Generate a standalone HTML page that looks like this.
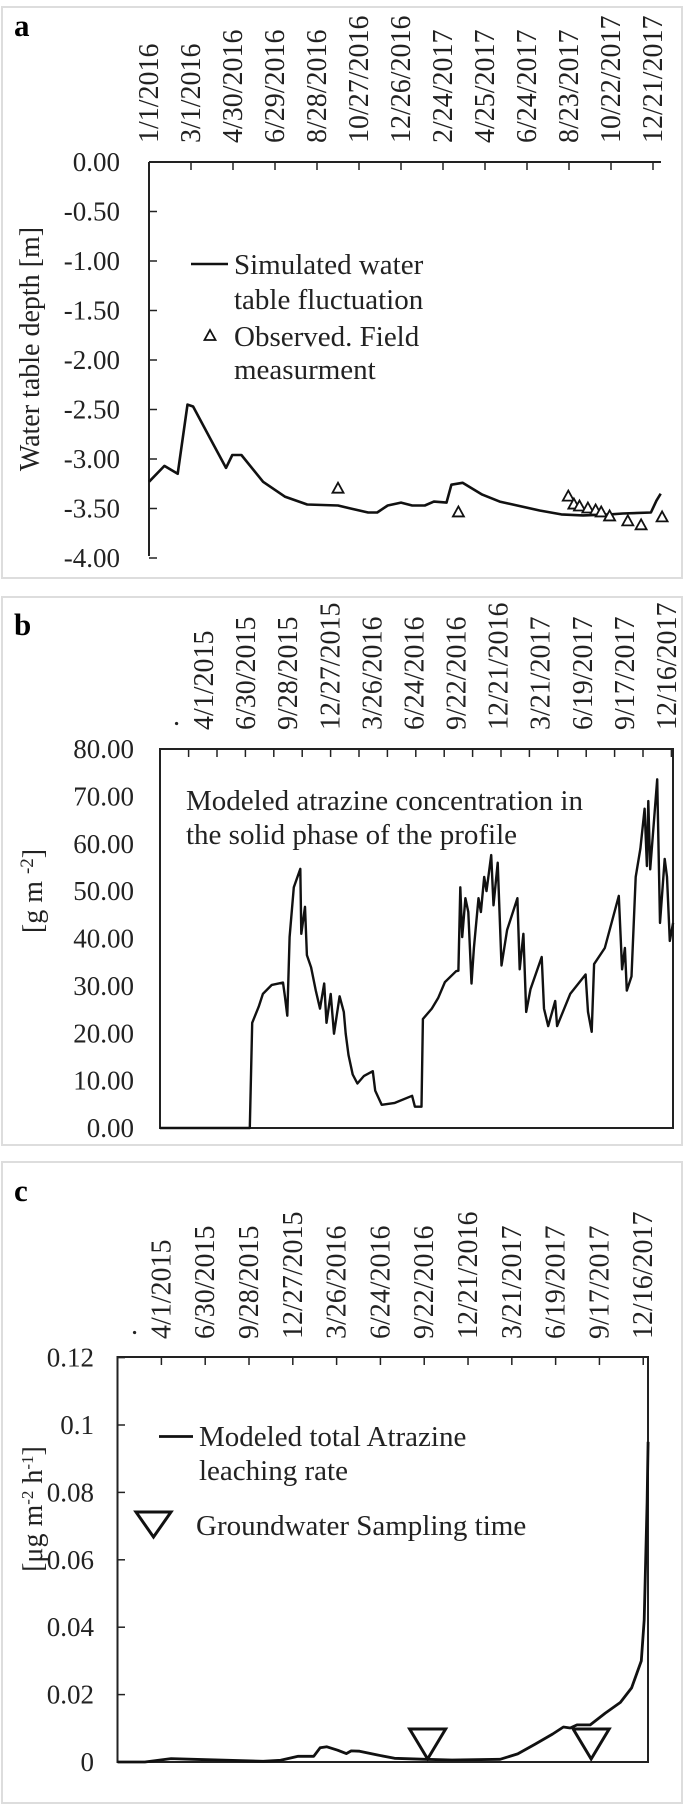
<!DOCTYPE html>
<html><head><meta charset="utf-8"><style>
html,body{margin:0;padding:0;background:#fff;}
svg{display:block;font-family:"Liberation Serif","Times New Roman",serif;}
svg text{font-family:"Liberation Serif","Times New Roman",serif;}
</style></head><body>
<svg id="s" width="685" height="1805" viewBox="0 0 685 1805">
<rect x="2" y="7" width="680" height="571" fill="none" stroke="#ddd" stroke-width="2"/>
<rect x="2" y="597" width="680" height="548" fill="none" stroke="#ddd" stroke-width="2"/>
<rect x="2" y="1162" width="680" height="641" fill="none" stroke="#ddd" stroke-width="2"/>
<text x="14" y="36" font-size="31" font-weight="bold">a</text>
<text x="14" y="635" font-size="31" font-weight="bold">b</text>
<text x="14" y="1201" font-size="31" font-weight="bold">c</text>
<g id="ga"></g>
<g id="gb"></g>
<g id="gc"></g>
</svg>
<script>
// ---- Panel a data ----
const aTickLabels = ["1/1/2016","3/1/2016","4/30/2016","6/29/2016","8/28/2016","10/27/2016","12/26/2016","2/24/2017","4/25/2017","6/24/2017","8/23/2017","10/22/2017","12/21/2017"];
const aYTicks = [0,-0.5,-1,-1.5,-2,-2.5,-3,-3.5,-4];
const aSimDays = [0,22,41,55,63,88,110,119,132,163,194,226,270,288,313,326,341,360,376,394,407,425,432,448,476,501,526,558,589,620,658,677,717,725,731];
const aSimVals = [-3.23,-3.07,-3.15,-2.45,-2.47,-2.80,-3.09,-2.96,-2.96,-3.23,-3.38,-3.46,-3.47,-3.50,-3.54,-3.54,-3.47,-3.44,-3.47,-3.47,-3.43,-3.44,-3.26,-3.24,-3.36,-3.43,-3.47,-3.52,-3.56,-3.57,-3.56,-3.55,-3.54,-3.42,-3.35];
const aObsDays = [270,442,599,607,615,627,638,646,658,684,703,733];
const aObsVals = [-3.30,-3.54,-3.38,-3.46,-3.48,-3.50,-3.52,-3.54,-3.58,-3.63,-3.67,-3.59];
// ---- Panel b data ----
const bTickLabels = [".","4/1/2015","6/30/2015","9/28/2015","12/27/2015","3/26/2016","6/24/2016","9/22/2016","12/21/2016","3/21/2017","6/19/2017","9/17/2017","12/16/2017"];
const bYTicks = [0,10,20,30,40,50,60,70,80];
const bDays = [-94,98,103,117,126,145,169,173,178,183,192,206,208,216,220,229,239,248,257,262,271,278,290,299,303,309,318,328,342,361,366,380,408,445,451,465,468,487,501,515,539,544,548,552,559,565,572,577,587,592,599,604,614,619,628,636,648,670,675,683,689,698,722,727,736,751,755,783,816,821,829,834,857,887,894,900,904,914,923,933,942,947,950,954,969,975,985,990,996,1003];
const bVals = [0,0,22.2,25.6,28.3,30.2,30.7,27.8,23.7,40.3,50.8,54.7,41,46.7,36.5,33.9,29,25.2,30.5,22.2,28.3,19.9,27.8,24.5,19.9,15.4,11.3,9.4,11,12,7.9,4.9,5.3,6.8,4.5,4.5,23,25.2,27.5,30.8,33.1,33.2,50.8,40.3,48.5,45.6,30.5,38,48.5,45.6,53,50,57.6,47,56,34.3,41.8,48.5,33.5,41,24.5,29.3,36.1,25.2,21.5,26.8,21.5,28.3,32.4,24.5,20.3,34.6,38,49,33.5,38,29,32,53,59,67.4,55.3,69,54.6,73.6,43.3,56.8,53,39.5,43.3];
// ---- Panel c data ----
const cTickLabels = [".","4/1/2015","6/30/2015","9/28/2015","12/27/2015","3/26/2016","6/24/2016","9/22/2016","12/21/2016","3/21/2017","6/19/2017","9/17/2017","12/16/2017"];
const cYTicks = [0,0.02,0.04,0.06,0.08,0.1,0.12];
const cYLabels = ["0","0.02","0.04","0.06","0.08","0.1","0.12"];
const cDays = [-90,-34,20,65,209,245,281,313,326,340,362,380,390,407,443,479,542,597,696,732,768,804,826,840,854,881,912,943,966,986,992,998,1000];
const cVals = [0,0,0.001,0.0008,0.0002,0.0005,0.0017,0.0017,0.0042,0.0045,0.0035,0.0025,0.0033,0.0032,0.0021,0.0011,0.0008,0.0006,0.0008,0.0024,0.0053,0.0083,0.0104,0.0101,0.011,0.011,0.0145,0.0177,0.022,0.030,0.0422,0.077,0.095];
const cSampleDays = [547,883];

const NS="http://www.w3.org/2000/svg";
function mk(parent,tag,attrs,txt){const e=document.createElementNS(NS,tag);for(const k in attrs)e.setAttribute(k,attrs[k]);if(txt!==undefined)e.textContent=txt;parent.appendChild(e);return e;}
function pathD(xs,ys,fx,fy){return xs.map((d,i)=>(i?"L":"M")+fx(d).toFixed(1)+","+fy(ys[i]).toFixed(1)).join("");}

// ===== Panel a =====
(function(){
 const g=document.getElementById('ga');
 const x=d=>149+d*0.7, y=v=>162-v*99;
 let e=mk(g,'path',{d:"M149,162H661M149,162V556",stroke:"#222","stroke-width":2,fill:"none"});
 
 
 aTickLabels.forEach((t,i)=>{
  const px=x(i*60);
  const tk=mk(g,'line',{x1:px,y1:162,x2:px,y2:170,stroke:"#222","stroke-width":1.5});
  
  
  const tl=mk(g,'text',{transform:`translate(${px+9},143) rotate(-90)`,"font-size":28,"text-anchor":"start",fill:"#222"},t);
  
  
 });
 aYTicks.forEach(v=>{
  const py=y(v);
  const tk=mk(g,'line',{x1:149,y1:py,x2:157,y2:py,stroke:"#222","stroke-width":1.5});
  
  
  const tl=mk(g,'text',{x:120,y:py+9,"font-size":27,"text-anchor":"end",fill:"#222"},v.toFixed(2).replace("-0.00","0.00"));
  
  
 });
 e=mk(g,'text',{transform:"translate(39,349) rotate(-90)","font-size":28,"text-anchor":"middle",fill:"#222"},"Water table depth [m]");
 
 
 e=mk(g,'path',{d:pathD(aSimDays,aSimVals,x,y),stroke:"#111","stroke-width":2.6,fill:"none","stroke-linejoin":"round"});
 
 
 aObsDays.forEach((d,i)=>{
  const px=x(d),py=y(aObsVals[i]);
  const t=mk(g,'path',{d:`M${px},${py-6}L${px+5.5},${py+4}L${px-5.5},${py+4}Z`,stroke:"#111","stroke-width":1.8,fill:"#fff"});
  
  
 });
 e=mk(g,'line',{x1:191,y1:264,x2:228,y2:264,stroke:"#111","stroke-width":2.6});
 
 
 e=mk(g,'text',{x:234,y:274,"font-size":29,fill:"#222"},"Simulated water");
 
 
 e=mk(g,'text',{x:234,y:309,"font-size":29,fill:"#222"},"table fluctuation");
 
 
 e=mk(g,'path',{d:"M210,330L215.5,340L204.5,340Z",stroke:"#111","stroke-width":1.8,fill:"#fff"});
 
 
 e=mk(g,'text',{x:234,y:346,"font-size":29,fill:"#222"},"Observed. Field");
 
 
 e=mk(g,'text',{x:234,y:379,"font-size":29,fill:"#222"},"measurment");
 
 
})();

// ===== Panel b =====
(function(){
 const g=document.getElementById('gb');
 const x=d=>204+d*0.4677, y=v=>1128-v*4.7375;
 let e=mk(g,'rect',{x:160,y:749,width:513,height:379,stroke:"#222","stroke-width":2,fill:"none"});
 
 
 for(let i=0;i<18;i++){
  const px=188.6+i*28.4;
  const tk=mk(g,'line',{x1:px,y1:749,x2:px,y2:757,stroke:"#222","stroke-width":1.5});
  
  
 }
 bTickLabels.forEach((t,i)=>{
  const px=i===0?169:x((i-1)*90);
  const tl=mk(g,'text',{transform:`translate(${px+9},${i===0?727:730}) rotate(-90)`,"font-size":28,fill:"#222"},t);
  
  
 });
 bYTicks.forEach(v=>{
  const tl=mk(g,'text',{x:134,y:y(v)+9,"font-size":27,"text-anchor":"end",fill:"#222"},v.toFixed(2));
  
  
 });
 e=mk(g,'text',{transform:"translate(42,891) rotate(-90)","font-size":28,"text-anchor":"middle",fill:"#222"});
 
 
 e.innerHTML='[g m <tspan dy="-9" font-size="19">-2</tspan><tspan dy="9">]</tspan>';
 e=mk(g,'path',{d:pathD(bDays,bVals,x,y),stroke:"#111","stroke-width":2.4,fill:"none","stroke-linejoin":"round"});
 
 
 e=mk(g,'text',{x:186,y:810,"font-size":29,fill:"#222"},"Modeled atrazine concentration in");
 
 
 e=mk(g,'text',{x:186,y:844,"font-size":29,fill:"#222"},"the solid phase of the profile");
 
 
})();

// ===== Panel c =====
(function(){
 const g=document.getElementById('gc');
 const x=d=>161.4+d*0.4867, y=v=>1762-v*3370;
 let e=mk(g,'rect',{x:117.5,y:1357,width:530.5,height:405,stroke:"#222","stroke-width":2,fill:"none"});
 
 
 cTickLabels.forEach((t,i)=>{
  const px=i===0?127:x((i-1)*90);
  if(i>0){
   const tk=mk(g,'line',{x1:px,y1:1357,x2:px,y2:1365,stroke:"#222","stroke-width":1.5});
   
   
  }
  const tl=mk(g,'text',{transform:`translate(${px+9},${i===0?1336:1339}) rotate(-90)`,"font-size":28,fill:"#222"},t);
  
  
 });
 cYTicks.forEach((v,i)=>{
  const tk=mk(g,'line',{x1:117.5,y1:y(v),x2:125,y2:y(v),stroke:"#222","stroke-width":1.5});
  
  
  const tl=mk(g,'text',{x:94,y:y(v)+9,"font-size":27,"text-anchor":"end",fill:"#222"},cYLabels[i]);
  
  
 });
 e=mk(g,'text',{transform:"translate(42,1509) rotate(-90)","font-size":28,"text-anchor":"middle",fill:"#222"});
 
 
 e.innerHTML='[μg m<tspan dy="-9" font-size="17">-2</tspan><tspan dy="9"> h</tspan><tspan dy="-9" font-size="17">-1</tspan><tspan dy="9">]</tspan>';
 e=mk(g,'path',{d:pathD(cDays,cVals,x,y),stroke:"#111","stroke-width":2.8,fill:"none","stroke-linejoin":"round"});
 
 
 cSampleDays.forEach(d=>{
  const px=x(d),py=y(0)-3;
  const t=mk(g,'path',{d:`M${px-18},${py-30}H${px+18}L${px},${py}Z`,stroke:"#111","stroke-width":3,fill:"none","stroke-linejoin":"miter"});
  
  
 });
 e=mk(g,'line',{x1:159,y1:1436.5,x2:193,y2:1436.5,stroke:"#111","stroke-width":2.8});
 
 
 e=mk(g,'text',{x:199,y:1446,"font-size":29,fill:"#222"},"Modeled total Atrazine");
 
 
 e=mk(g,'text',{x:199,y:1480,"font-size":29,fill:"#222"},"leaching rate");
 
 
 e=mk(g,'path',{d:"M136,1512H171L153.5,1537Z",stroke:"#111","stroke-width":3,fill:"none"});
 
 
 e=mk(g,'text',{x:196,y:1535,"font-size":29,fill:"#222"},"Groundwater Sampling time");
 
 
})();
</script>
</body></html>
